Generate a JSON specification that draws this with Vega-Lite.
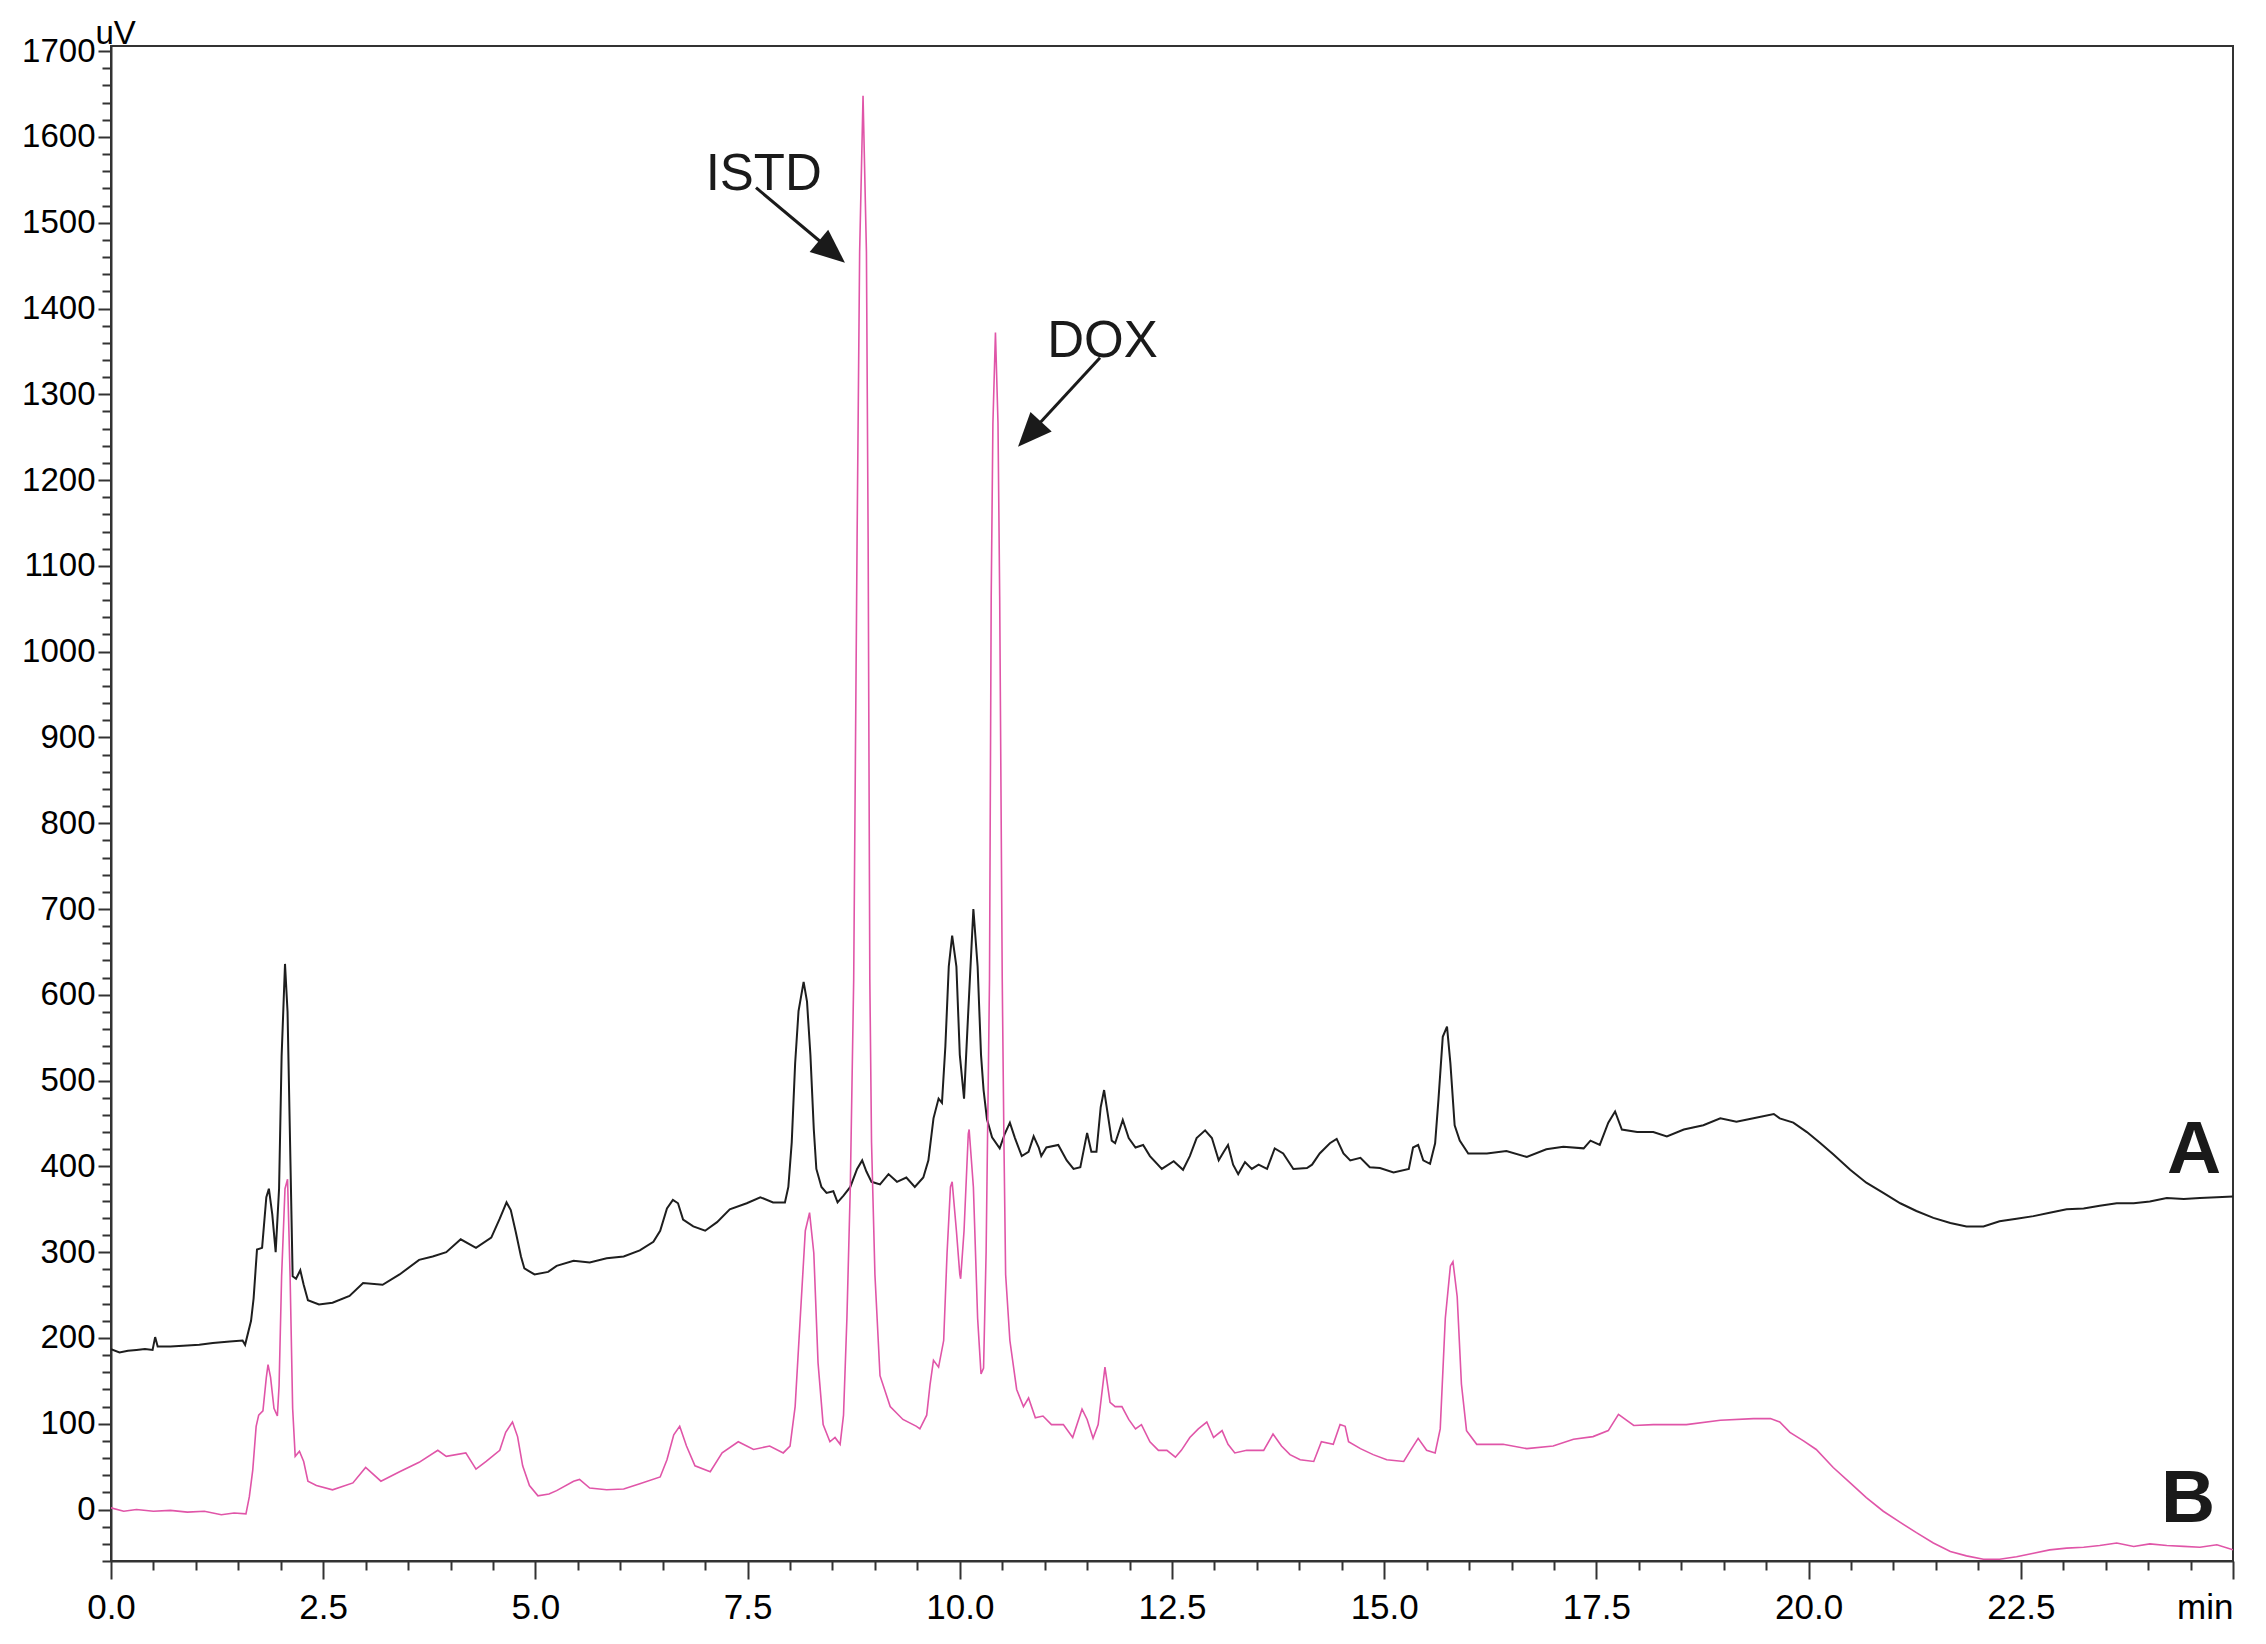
{
"$schema": "https://vega.github.io/schema/vega-lite/v6.json",
"width": 2122, "height": 1515,
"autosize": {"type": "none"},
"padding": {"left": 111, "top": 46, "right": 33, "bottom": 83},
"background": "white",
"config": {"view": {"stroke": "#333", "strokeWidth": 2}, "font": "Liberation Sans", "axis": {"labelOverlap": false}},
"datasets": {
"A": [
{"t":0.00,"v":187},{"t":0.10,"v":183},{"t":0.20,"v":185},{"t":0.30,"v":186},{"t":0.40,"v":187},{"t":0.49,"v":186},{"t":0.52,"v":201},{"t":0.55,"v":190},{"t":0.70,"v":190},{"t":0.85,"v":191},{"t":1.04,"v":192},{"t":1.20,"v":194},{"t":1.40,"v":196},{"t":1.55,"v":197},{"t":1.58,"v":192},{"t":1.65,"v":220},{"t":1.68,"v":246},{"t":1.72,"v":303},{"t":1.78,"v":305},{"t":1.83,"v":364},{"t":1.86,"v":374},{"t":1.90,"v":344},{"t":1.94,"v":300},{"t":1.98,"v":374},{"t":2.01,"v":528},{"t":2.05,"v":636},{"t":2.08,"v":580},{"t":2.11,"v":426},{"t":2.14,"v":272},{"t":2.18,"v":269},{"t":2.23,"v":279},{"t":2.27,"v":262},{"t":2.32,"v":244},{"t":2.45,"v":239},{"t":2.61,"v":241},{"t":2.81,"v":249},{"t":2.97,"v":264},{"t":3.20,"v":262},{"t":3.40,"v":274},{"t":3.63,"v":291},{"t":3.79,"v":295},{"t":3.95,"v":300},{"t":4.12,"v":315},{"t":4.30,"v":305},{"t":4.48,"v":317},{"t":4.58,"v":339},{"t":4.66,"v":358},{"t":4.71,"v":349},{"t":4.77,"v":323},{"t":4.83,"v":295},{"t":4.87,"v":281},{"t":4.99,"v":274},{"t":5.15,"v":277},{"t":5.25,"v":284},{"t":5.45,"v":290},{"t":5.64,"v":288},{"t":5.84,"v":293},{"t":6.04,"v":295},{"t":6.23,"v":302},{"t":6.39,"v":312},{"t":6.47,"v":325},{"t":6.55,"v":351},{"t":6.62,"v":361},{"t":6.68,"v":357},{"t":6.74,"v":338},{"t":6.86,"v":330},{"t":7.00,"v":325},{"t":7.14,"v":335},{"t":7.29,"v":350},{"t":7.49,"v":357},{"t":7.65,"v":364},{"t":7.80,"v":358},{"t":7.94,"v":358},{"t":7.98,"v":376},{"t":8.02,"v":428},{"t":8.06,"v":520},{"t":8.10,"v":581},{"t":8.16,"v":615},{"t":8.20,"v":592},{"t":8.24,"v":530},{"t":8.28,"v":443},{"t":8.31,"v":397},{"t":8.37,"v":376},{"t":8.43,"v":369},{"t":8.51,"v":371},{"t":8.56,"v":358},{"t":8.63,"v":366},{"t":8.71,"v":376},{"t":8.79,"v":397},{"t":8.85,"v":407},{"t":8.90,"v":394},{"t":8.96,"v":382},{"t":9.06,"v":379},{"t":9.16,"v":391},{"t":9.26,"v":382},{"t":9.37,"v":387},{"t":9.47,"v":376},{"t":9.57,"v":387},{"t":9.63,"v":407},{"t":9.69,"v":456},{"t":9.75,"v":479},{"t":9.79,"v":474},{"t":9.83,"v":540},{"t":9.87,"v":633},{"t":9.91,"v":669},{"t":9.96,"v":633},{"t":10.00,"v":530},{"t":10.05,"v":479},{"t":10.10,"v":581},{"t":10.16,"v":700},{"t":10.21,"v":633},{"t":10.25,"v":530},{"t":10.28,"v":489},{"t":10.32,"v":455},{"t":10.38,"v":434},{"t":10.47,"v":421},{"t":10.53,"v":438},{"t":10.59,"v":451},{"t":10.65,"v":433},{"t":10.73,"v":412},{"t":10.81,"v":417},{"t":10.87,"v":435},{"t":10.93,"v":422},{"t":10.96,"v":412},{"t":11.02,"v":422},{"t":11.16,"v":425},{"t":11.26,"v":407},{"t":11.34,"v":397},{"t":11.42,"v":399},{"t":11.50,"v":439},{"t":11.55,"v":417},{"t":11.61,"v":417},{"t":11.66,"v":469},{"t":11.70,"v":489},{"t":11.74,"v":463},{"t":11.79,"v":430},{"t":11.83,"v":427},{"t":11.92,"v":454},{"t":11.99,"v":433},{"t":12.07,"v":422},{"t":12.16,"v":425},{"t":12.24,"v":412},{"t":12.38,"v":397},{"t":12.52,"v":406},{"t":12.63,"v":396},{"t":12.71,"v":412},{"t":12.79,"v":433},{"t":12.89,"v":442},{"t":12.97,"v":433},{"t":13.05,"v":407},{"t":13.11,"v":417},{"t":13.16,"v":425},{"t":13.22,"v":402},{"t":13.28,"v":391},{"t":13.36,"v":405},{"t":13.44,"v":397},{"t":13.52,"v":402},{"t":13.62,"v":397},{"t":13.71,"v":421},{"t":13.81,"v":415},{"t":13.93,"v":397},{"t":14.09,"v":398},{"t":14.15,"v":402},{"t":14.24,"v":415},{"t":14.36,"v":427},{"t":14.44,"v":432},{"t":14.52,"v":415},{"t":14.60,"v":407},{"t":14.72,"v":410},{"t":14.83,"v":399},{"t":14.95,"v":398},{"t":15.11,"v":393},{"t":15.29,"v":397},{"t":15.34,"v":422},{"t":15.40,"v":425},{"t":15.46,"v":407},{"t":15.54,"v":403},{"t":15.60,"v":427},{"t":15.64,"v":479},{"t":15.69,"v":551},{"t":15.74,"v":563},{"t":15.78,"v":520},{"t":15.83,"v":448},{"t":15.89,"v":430},{"t":15.99,"v":415},{"t":16.21,"v":415},{"t":16.44,"v":418},{"t":16.68,"v":411},{"t":16.91,"v":420},{"t":17.11,"v":423},{"t":17.35,"v":421},{"t":17.43,"v":430},{"t":17.54,"v":425},{"t":17.64,"v":451},{"t":17.72,"v":464},{"t":17.80,"v":443},{"t":17.98,"v":440},{"t":18.17,"v":440},{"t":18.33,"v":435},{"t":18.53,"v":443},{"t":18.76,"v":448},{"t":18.96,"v":456},{"t":19.15,"v":452},{"t":19.35,"v":456},{"t":19.59,"v":461},{"t":19.66,"v":456},{"t":19.82,"v":451},{"t":19.98,"v":440},{"t":20.14,"v":427},{"t":20.29,"v":414},{"t":20.49,"v":396},{"t":20.68,"v":381},{"t":20.88,"v":369},{"t":21.08,"v":357},{"t":21.27,"v":348},{"t":21.47,"v":340},{"t":21.67,"v":334},{"t":21.86,"v":330},{"t":22.06,"v":330},{"t":22.25,"v":336},{"t":22.45,"v":339},{"t":22.65,"v":342},{"t":22.84,"v":346},{"t":23.04,"v":350},{"t":23.24,"v":351},{"t":23.43,"v":354},{"t":23.63,"v":357},{"t":23.83,"v":357},{"t":24.02,"v":359},{"t":24.22,"v":363},{"t":24.42,"v":362},{"t":24.61,"v":363},{"t":24.81,"v":364},{"t":25.00,"v":365}
],
"B": [
{"t":0.00,"v":2},{"t":0.15,"v":-2},{"t":0.30,"v":0},{"t":0.50,"v":-2},{"t":0.70,"v":-1},{"t":0.90,"v":-3},{"t":1.10,"v":-2},{"t":1.30,"v":-6},{"t":1.45,"v":-4},{"t":1.59,"v":-5},{"t":1.63,"v":15},{"t":1.67,"v":46},{"t":1.71,"v":97},{"t":1.74,"v":110},{"t":1.79,"v":115},{"t":1.83,"v":154},{"t":1.85,"v":169},{"t":1.88,"v":154},{"t":1.92,"v":118},{"t":1.96,"v":109},{"t":1.98,"v":144},{"t":2.01,"v":272},{"t":2.05,"v":374},{"t":2.08,"v":385},{"t":2.11,"v":272},{"t":2.14,"v":118},{"t":2.17,"v":62},{"t":2.22,"v":68},{"t":2.27,"v":56},{"t":2.32,"v":33},{"t":2.42,"v":28},{"t":2.61,"v":23},{"t":2.85,"v":31},{"t":3.00,"v":49},{"t":3.18,"v":33},{"t":3.40,"v":44},{"t":3.63,"v":55},{"t":3.85,"v":69},{"t":3.95,"v":62},{"t":4.18,"v":66},{"t":4.30,"v":47},{"t":4.42,"v":56},{"t":4.58,"v":69},{"t":4.65,"v":90},{"t":4.73,"v":102},{"t":4.79,"v":85},{"t":4.85,"v":51},{"t":4.93,"v":28},{"t":5.03,"v":16},{"t":5.16,"v":18},{"t":5.25,"v":22},{"t":5.45,"v":33},{"t":5.52,"v":35},{"t":5.64,"v":25},{"t":5.84,"v":23},{"t":6.04,"v":24},{"t":6.23,"v":30},{"t":6.47,"v":38},{"t":6.55,"v":58},{"t":6.63,"v":87},{"t":6.70,"v":97},{"t":6.78,"v":74},{"t":6.88,"v":51},{"t":7.06,"v":44},{"t":7.20,"v":66},{"t":7.39,"v":79},{"t":7.57,"v":70},{"t":7.76,"v":74},{"t":7.92,"v":66},{"t":8.00,"v":74},{"t":8.06,"v":120},{"t":8.12,"v":223},{"t":8.18,"v":325},{"t":8.23,"v":346},{"t":8.28,"v":299},{"t":8.33,"v":171},{"t":8.39,"v":99},{"t":8.47,"v":79},{"t":8.53,"v":84},{"t":8.59,"v":76},{"t":8.63,"v":110},{"t":8.67,"v":223},{"t":8.71,"v":376},{"t":8.75,"v":618},{"t":8.79,"v":1132},{"t":8.82,"v":1466},{"t":8.86,"v":1648},{"t":8.90,"v":1466},{"t":8.92,"v":1132},{"t":8.94,"v":618},{"t":8.96,"v":428},{"t":9.00,"v":274},{"t":9.06,"v":156},{"t":9.18,"v":120},{"t":9.33,"v":105},{"t":9.49,"v":97},{"t":9.53,"v":94},{"t":9.61,"v":110},{"t":9.65,"v":146},{"t":9.69,"v":174},{"t":9.75,"v":166},{"t":9.81,"v":197},{"t":9.85,"v":299},{"t":9.89,"v":376},{"t":9.91,"v":382},{"t":9.96,"v":325},{"t":10.00,"v":274},{"t":10.01,"v":269},{"t":10.05,"v":325},{"t":10.10,"v":438},{"t":10.11,"v":443},{"t":10.16,"v":376},{"t":10.21,"v":223},{"t":10.25,"v":158},{"t":10.28,"v":165},{"t":10.31,"v":300},{"t":10.35,"v":618},{"t":10.37,"v":1064},{"t":10.39,"v":1266},{"t":10.42,"v":1372},{"t":10.45,"v":1266},{"t":10.47,"v":1064},{"t":10.50,"v":618},{"t":10.52,"v":428},{"t":10.54,"v":274},{"t":10.59,"v":197},{"t":10.67,"v":140},{"t":10.75,"v":120},{"t":10.81,"v":130},{"t":10.89,"v":107},{"t":10.98,"v":109},{"t":11.08,"v":99},{"t":11.22,"v":99},{"t":11.33,"v":84},{"t":11.44,"v":117},{"t":11.50,"v":105},{"t":11.57,"v":83},{"t":11.63,"v":99},{"t":11.71,"v":166},{"t":11.77,"v":125},{"t":11.83,"v":120},{"t":11.91,"v":120},{"t":11.99,"v":105},{"t":12.07,"v":94},{"t":12.14,"v":99},{"t":12.24,"v":79},{"t":12.34,"v":69},{"t":12.44,"v":69},{"t":12.54,"v":61},{"t":12.61,"v":69},{"t":12.71,"v":84},{"t":12.81,"v":94},{"t":12.91,"v":102},{"t":12.99,"v":84},{"t":13.09,"v":92},{"t":13.16,"v":76},{"t":13.24,"v":66},{"t":13.38,"v":69},{"t":13.58,"v":69},{"t":13.69,"v":88},{"t":13.79,"v":74},{"t":13.89,"v":64},{"t":14.01,"v":58},{"t":14.17,"v":56},{"t":14.26,"v":79},{"t":14.40,"v":76},{"t":14.48,"v":99},{"t":14.54,"v":97},{"t":14.58,"v":79},{"t":14.72,"v":71},{"t":14.87,"v":64},{"t":15.03,"v":58},{"t":15.23,"v":56},{"t":15.31,"v":69},{"t":15.40,"v":83},{"t":15.50,"v":69},{"t":15.60,"v":66},{"t":15.66,"v":94},{"t":15.72,"v":223},{"t":15.78,"v":284},{"t":15.81,"v":289},{"t":15.86,"v":248},{"t":15.91,"v":146},{"t":15.97,"v":92},{"t":16.09,"v":76},{"t":16.40,"v":76},{"t":16.68,"v":71},{"t":16.99,"v":74},{"t":17.23,"v":82},{"t":17.46,"v":85},{"t":17.64,"v":92},{"t":17.76,"v":111},{"t":17.94,"v":98},{"t":18.17,"v":99},{"t":18.56,"v":99},{"t":18.96,"v":104},{"t":19.35,"v":106},{"t":19.55,"v":106},{"t":19.66,"v":102},{"t":19.78,"v":90},{"t":19.94,"v":80},{"t":20.09,"v":70},{"t":20.29,"v":49},{"t":20.49,"v":31},{"t":20.68,"v":14},{"t":20.88,"v":-2},{"t":21.08,"v":-15},{"t":21.27,"v":-27},{"t":21.47,"v":-39},{"t":21.67,"v":-49},{"t":21.86,"v":-54},{"t":22.06,"v":-58},{"t":22.25,"v":-58},{"t":22.45,"v":-55},{"t":22.65,"v":-51},{"t":22.84,"v":-47},{"t":23.04,"v":-45},{"t":23.24,"v":-44},{"t":23.43,"v":-42},{"t":23.63,"v":-39},{"t":23.83,"v":-43},{"t":24.02,"v":-40},{"t":24.22,"v":-42},{"t":24.42,"v":-43},{"t":24.61,"v":-44},{"t":24.81,"v":-41},{"t":25.00,"v":-47}
],
"arrows": [{"t":7.599,"v":1540.8,"t2":8.388,"v2":1475.5},{"t":11.652,"v":1342.7,"t2":10.91,"v2":1263}],
"heads": [{"t":8.647,"v":1453.4,"a":130},{"t":10.686,"v":1238.9,"a":222.7}],
"names": [{"t":7.69,"v":1538,"label":"ISTD"},{"t":11.68,"v":1344,"label":"DOX"}],
"traces": [{"t":24.54,"v":392,"label":"A"},{"t":24.47,"v":-15,"label":"B"}]
},
"resolve": {"scale": {"y": "independent"}, "axis": {"y": "independent"}},
"layer": [
{
"layer": [
{
"data": {"name": "A"},
"mark": {"type": "line", "color": "#1e1e1e", "strokeWidth": 2, "clip": true},
"encoding": {
"x": {"field": "t", "type": "quantitative", "scale": {"domain": [0, 25], "nice": false, "zero": false},
"axis": {"title": null, "values": [0,0.5,1,1.5,2,2.5,3,3.5,4,4.5,5,5.5,6,6.5,7,7.5,8,8.5,9,9.5,10,10.5,11,11.5,12,12.5,13,13.5,14,14.5,15,15.5,16,16.5,17,17.5,18,18.5,19,19.5,20,20.5,21,21.5,22,22.5,23,23.5,24,24.5,25],
"labelExpr": "datum.value === 25 ? 'min' : (abs(datum.value/2.5 - round(datum.value/2.5)) < 0.001 ? format(datum.value, '.1f') : '')",
"labelAlign": {"condition": {"test": "datum.value === 25", "value": "right"}, "value": "center"},
"tickSize": {"condition": {"test": "abs(datum.value/2.5 - round(datum.value/2.5)) < 0.001", "value": 18}, "value": 9},
"labelFontSize": 35, "labelColor": "black", "labelPadding": 11, "labelOverlap": false, "labelFlush": false, "labelBound": false,
"tickColor": "#333", "tickWidth": 2, "domainColor": "#333", "domainWidth": 2, "grid": false}},
"y": {"field": "v", "type": "quantitative", "scale": {"domain": [-60, 1706], "nice": false, "zero": false},
"axis": {"orient": "left", "title": "uV", "titleAngle": 0, "titleAlign": "left", "titleBaseline": "alphabetic", "titleX": -16, "titleY": -3, "titleFontSize": 33, "titleFontWeight": "normal", "titleColor": "black",
"values": [0,100,200,300,400,500,600,700,800,900,1000,1100,1200,1300,1400,1500,1600,1700],
"format": "d", "tickSize": 13,
"labelFontSize": 33, "labelColor": "black", "labelPadding": 3, "labelOverlap": false, "labelFlush": false, "labelBound": false,
"tickColor": "#333", "tickWidth": 2, "domainColor": "#333", "domainWidth": 2, "grid": false}}
}
},
{
"data": {"name": "B"},
"mark": {"type": "line", "color": "#e055a8", "strokeWidth": 1.6, "clip": true},
"encoding": {"x": {"field": "t", "type": "quantitative"}, "y": {"field": "v", "type": "quantitative"}}
},
{
"data": {"name": "arrows"},
"mark": {"type": "rule", "color": "#1a1a1a", "strokeWidth": 3},
"encoding": {"x": {"field": "t", "type": "quantitative"}, "y": {"field": "v", "type": "quantitative"}, "x2": {"field": "t2"}, "y2": {"field": "v2"}}
},
{
"data": {"name": "heads"},
"mark": {"type": "point", "shape": "M0,0L-0.85,2L0.85,2Z", "filled": true, "color": "#1a1a1a", "opacity": 1, "size": 1156, "strokeWidth": 0},
"encoding": {"x": {"field": "t", "type": "quantitative"}, "y": {"field": "v", "type": "quantitative"}, "angle": {"field": "a", "type": "quantitative", "scale": null}}
},
{
"data": {"name": "names"},
"mark": {"type": "text", "fontSize": 51, "color": "#1a1a1a", "align": "center", "baseline": "alphabetic"},
"encoding": {"x": {"field": "t", "type": "quantitative"}, "y": {"field": "v", "type": "quantitative"}, "text": {"field": "label"}}
},
{
"data": {"name": "traces"},
"mark": {"type": "text", "fontSize": 75, "fontWeight": "bold", "color": "#1a1a1a", "align": "center", "baseline": "alphabetic"},
"encoding": {"x": {"field": "t", "type": "quantitative"}, "y": {"field": "v", "type": "quantitative"}, "text": {"field": "label"}}
}
]
},
{
"data": {"name": "A"},
"mark": {"type": "line", "opacity": 0, "strokeOpacity": 0},
"encoding": {
"x": {"field": "t", "type": "quantitative"},
"y": {"field": "v", "type": "quantitative", "scale": {"domain": [-60, 1706], "nice": false, "zero": false},
"axis": {"orient": "left", "title": null, "labels": false, "domain": false, "grid": false, "tickSize": 9, "tickColor": "#333", "tickWidth": 2,
"values": [-60,-40,-20,20,40,60,80,120,140,160,180,220,240,260,280,320,340,360,380,420,440,460,480,520,540,560,580,620,640,660,680,720,740,760,780,820,840,860,880,920,940,960,980,1020,1040,1060,1080,1120,1140,1160,1180,1220,1240,1260,1280,1320,1340,1360,1380,1420,1440,1460,1480,1520,1540,1560,1580,1620,1640,1660,1680]}}
}
}
]
}
